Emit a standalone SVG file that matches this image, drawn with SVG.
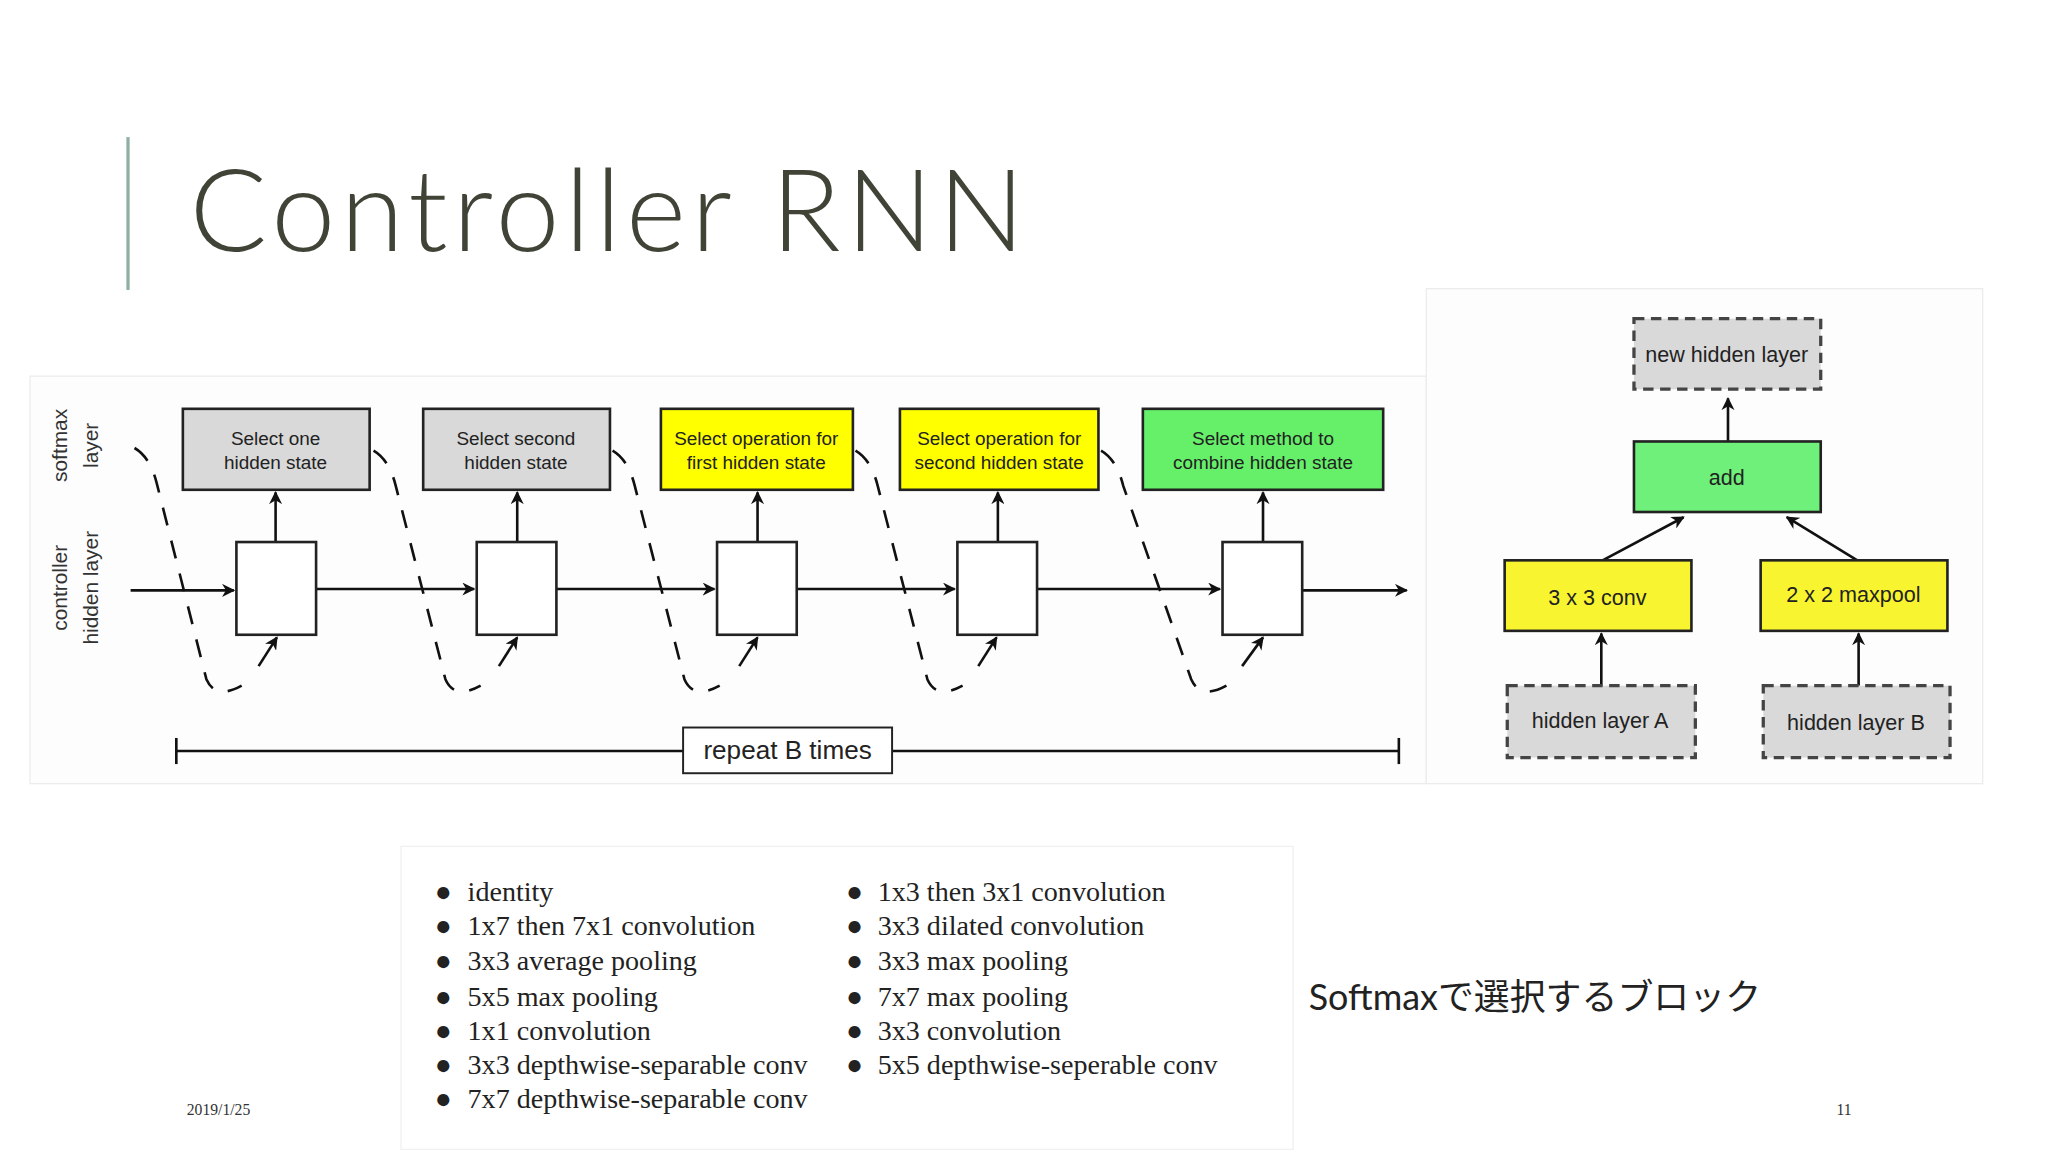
<svg xmlns="http://www.w3.org/2000/svg" width="2048" height="1152" viewBox="0 0 2048 1152">
<defs>
<marker id="ah" viewBox="0 0 10 10" refX="9" refY="5" markerWidth="5" markerHeight="5" orient="auto"><path d="M0,0 L10,5 L0,10 L3,5 z" fill="#111"/></marker>
<style>
.b{stroke:#222;stroke-width:2}
.t{font-family:"Liberation Sans",Arial,sans-serif;font-size:14.5px;fill:#222;text-anchor:middle}
.t2{font-family:"Liberation Sans",Arial,sans-serif;font-size:16.5px;fill:#222;text-anchor:middle}
.c{fill:#fff;stroke:#222;stroke-width:2}
.ln{stroke:#111;stroke-width:2;fill:none}
.d{stroke:#111;stroke-width:2;fill:none;stroke-dasharray:14 12}
.db{stroke:#444;stroke-width:2.5;stroke-dasharray:8 5}
.li{font-family:"Liberation Serif","Times New Roman",serif;font-size:21.5px;fill:#222}
.lab{font-family:"Liberation Sans",Arial,sans-serif;font-size:16px;fill:#333;text-anchor:middle}
</style>
</defs>
<rect width="2048" height="1152" fill="#fff"/>
<g transform="scale(1.30612)">
<line x1="98" y1="105" x2="98" y2="222" stroke="#8fb0a0" stroke-width="2.5"/>
<text x="145" y="192" font-family="Lato,'Noto Sans',sans-serif" font-weight="300" font-size="88" letter-spacing="4" fill="#3f4437">Controller RNN</text>
<rect x="23" y="288" width="1069" height="312" fill="#fdfdfd" stroke="#ececec"/>
<rect x="1092" y="221" width="426" height="379" fill="#fdfdfd" stroke="#ececec"/>
<rect x="307" y="648" width="683" height="232" fill="#fff" stroke="#f0f0f0"/>
<g id="axislabels">
<text class="lab" transform="translate(51,341) rotate(-90)">softmax</text>
<text class="lab" transform="translate(75,341) rotate(-90)">layer</text>
<text class="lab" transform="translate(51,450) rotate(-90)">controller</text>
<text class="lab" transform="translate(75,450) rotate(-90)">hidden layer</text>
</g>
<g id="connectors">
<line class="ln" x1="100" y1="452" x2="179" y2="452" marker-end="url(#ah)"/>
<line class="ln" x1="242" y1="451" x2="363" y2="451" marker-end="url(#ah)"/>
<line class="ln" x1="426" y1="451" x2="547" y2="451" marker-end="url(#ah)"/>
<line class="ln" x1="610" y1="451" x2="731" y2="451" marker-end="url(#ah)"/>
<line class="ln" x1="794" y1="451" x2="934" y2="451" marker-end="url(#ah)"/>
<line class="ln" x1="997" y1="452" x2="1077" y2="452" marker-end="url(#ah)"/>
<line class="ln" x1="211" y1="415" x2="211" y2="377" marker-end="url(#ah)"/>
<line class="ln" x1="396" y1="415" x2="396" y2="377" marker-end="url(#ah)"/>
<line class="ln" x1="580" y1="415" x2="580" y2="377" marker-end="url(#ah)"/>
<line class="ln" x1="764" y1="415" x2="764" y2="377" marker-end="url(#ah)"/>
<line class="ln" x1="967" y1="415" x2="967" y2="377" marker-end="url(#ah)"/>
<path class="d" d="M103,343 Q115,350 120,370 L158,520 Q165,536 185,525" />
<path class="ln" d="M198,510 L212,488" marker-end="url(#ah)"/>
<path class="d" d="M286,345 Q298,352 303,372 L341,520 Q348,536 368,525" />
<path class="ln" d="M382,510 L396,488" marker-end="url(#ah)"/>
<path class="d" d="M469,345 Q481,352 486,372 L524,520 Q531,536 551,525" />
<path class="ln" d="M566,510 L580,488" marker-end="url(#ah)"/>
<path class="d" d="M655,345 Q667,352 672,372 L710,520 Q717,536 737,525" />
<path class="ln" d="M749,510 L763,488" marker-end="url(#ah)"/>
<path class="d" d="M843,345 Q855,352 860,372 L912,520 Q919,536 939,525" />
<path class="ln" d="M951,510 L967,488" marker-end="url(#ah)"/>
<line class="ln" x1="135" y1="575" x2="523" y2="575"/>
<line class="ln" x1="683" y1="575" x2="1071" y2="575"/>
<line class="ln" x1="135" y1="565" x2="135" y2="585"/>
<line class="ln" x1="1071" y1="565" x2="1071" y2="585"/>
<line class="ln" x1="1323" y1="338" x2="1323" y2="305" marker-end="url(#ah)"/>
<line class="ln" x1="1227" y1="429" x2="1289" y2="396" marker-end="url(#ah)"/>
<line class="ln" x1="1422" y1="429" x2="1368" y2="396" marker-end="url(#ah)"/>
<line class="ln" x1="1226" y1="525" x2="1226" y2="485" marker-end="url(#ah)"/>
<line class="ln" x1="1423" y1="525" x2="1423" y2="485" marker-end="url(#ah)"/>
</g>
<g id="s1"><rect class="b" x="140" y="313" width="143" height="62" fill="#d9d9d9"/><text class="t" x="211" y="341">Select one</text><text class="t" x="211" y="359">hidden state</text></g>
<g id="s2"><rect class="b" x="324" y="313" width="143" height="62" fill="#d9d9d9"/><text class="t" x="395" y="341">Select second</text><text class="t" x="395" y="359">hidden state</text></g>
<g id="s3"><rect class="b" x="506" y="313" width="147" height="62" fill="#ffff00"/><text class="t" x="579" y="341">Select operation for</text><text class="t" x="579" y="359">first hidden state</text></g>
<g id="s4"><rect class="b" x="689" y="313" width="152" height="62" fill="#ffff00"/><text class="t" x="765" y="341">Select operation for</text><text class="t" x="765" y="359">second hidden state</text></g>
<g id="s5"><rect class="b" x="875" y="313" width="184" height="62" fill="#66f06a"/><text class="t" x="967" y="341">Select method to</text><text class="t" x="967" y="359">combine hidden state</text></g>
<g id="c1"><rect class="c" x="181" y="415" width="61" height="71"/></g>
<g id="c2"><rect class="c" x="365" y="415" width="61" height="71"/></g>
<g id="c3"><rect class="c" x="549" y="415" width="61" height="71"/></g>
<g id="c4"><rect class="c" x="733" y="415" width="61" height="71"/></g>
<g id="c5"><rect class="c" x="936" y="415" width="61" height="71"/></g>
<g id="repeat"><rect x="523" y="557" width="160" height="35" fill="#fff" stroke="#222" stroke-width="1.5"/><text class="t" x="603" y="581" style="font-size:20px">repeat B times</text></g>
<g id="newh"><rect class="db" x="1251" y="244" width="143" height="54" fill="#d9d9d9"/><text class="t2" x="1322" y="277">new hidden layer</text></g>
<g id="add"><rect class="b" x="1251" y="338" width="143" height="54" fill="#6ef07a"/><text class="t2" x="1322" y="371">add</text></g>
<g id="conv"><rect class="b" x="1152" y="429" width="143" height="54" fill="#f8f530"/><text class="t2" x="1223" y="463">3 x 3 conv</text></g>
<g id="maxpool"><rect class="b" x="1348" y="429" width="143" height="54" fill="#f8f530"/><text class="t2" x="1419" y="461">2 x 2 maxpool</text></g>
<g id="ha"><rect class="db" x="1154" y="525" width="144" height="55" fill="#d9d9d9"/><text class="t2" x="1225" y="557">hidden layer A</text></g>
<g id="hb"><rect class="db" x="1350" y="525" width="143" height="55" fill="#d9d9d9"/><text class="t2" x="1421" y="559">hidden layer B</text></g>
<g id="list" class="li">
<text x="333" y="690">●</text><text x="358" y="690">identity</text>
<text x="333" y="716">●</text><text x="358" y="716">1x7 then 7x1 convolution</text>
<text x="333" y="743">●</text><text x="358" y="743">3x3 average pooling</text>
<text x="333" y="770">●</text><text x="358" y="770">5x5 max pooling</text>
<text x="333" y="796">●</text><text x="358" y="796">1x1 convolution</text>
<text x="333" y="822">●</text><text x="358" y="822">3x3 depthwise-separable conv</text>
<text x="333" y="848">●</text><text x="358" y="848">7x7 depthwise-separable conv</text>
<text x="648" y="690">●</text><text x="672" y="690">1x3 then 3x1 convolution</text>
<text x="648" y="716">●</text><text x="672" y="716">3x3 dilated convolution</text>
<text x="648" y="743">●</text><text x="672" y="743">3x3 max pooling</text>
<text x="648" y="770">●</text><text x="672" y="770">7x7 max pooling</text>
<text x="648" y="796">●</text><text x="672" y="796">3x3 convolution</text>
<text x="648" y="822">●</text><text x="672" y="822">5x5 depthwise-seperable conv</text>
</g>
<text x="1002" y="773" font-family="Lato,'Noto Sans CJK JP',sans-serif" font-size="27.5" fill="#222">Softmaxで選択するブロック</text>
<text x="143" y="854" font-family="'Liberation Serif',serif" font-size="12" fill="#333">2019/1/25</text>
<text x="1406" y="854" font-family="'Liberation Serif',serif" font-size="12" fill="#333">11</text>
</g>
</svg>
